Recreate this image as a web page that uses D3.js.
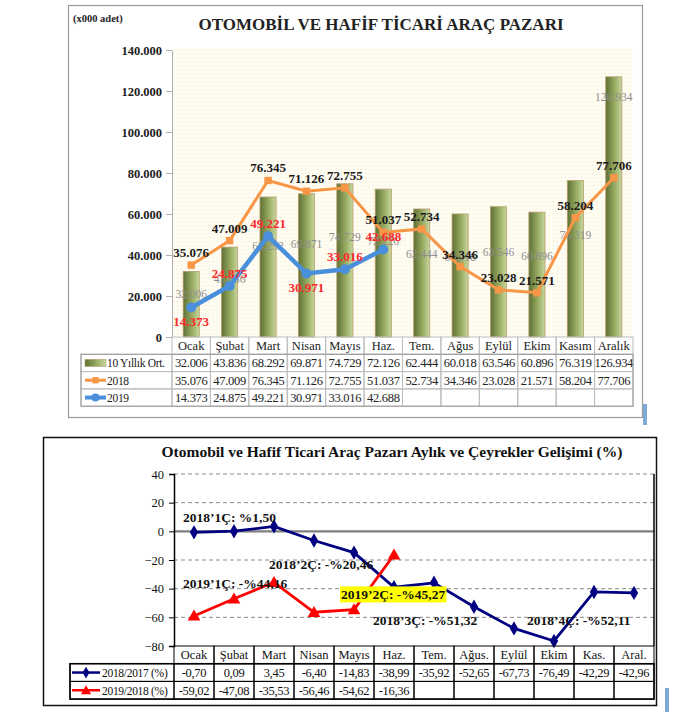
<!DOCTYPE html>
<html><head><meta charset="utf-8">
<script src="https://cdn.jsdelivr.net/npm/d3@7"></script>
<style>body{margin:0;background:#fff}svg{display:block}</style>
</head><body>
<svg id="c" width="673" height="716"></svg>
<script>
// ---------- DATA ----------
const months1 = ["Ocak","Şubat","Mart","Nisan","Mayıs","Haz.","Tem.","Ağus","Eylül","Ekim","Kasım","Aralık"];
const avg10  = [32006,43836,68292,69871,74729,72126,62444,60018,63546,60896,76319,126934];
const s2018  = [35076,47009,76345,71126,72755,51037,52734,34346,23028,21571,58204,77706];
const s2019  = [14373,24875,49221,30971,33016,42688];
const yTicks1 = [0,20000,40000,60000,80000,100000,120000,140000];
const seriesNames1 = ["10 Yıllık Ort.","2018","2019"];

const months2 = ["Ocak","Şubat","Mart","Nisan","Mayıs","Haz.","Tem.","Ağus.","Eylül","Ekim","Kas.","Aral."];
const g2018 = [-0.70,0.09,3.45,-6.40,-14.83,-38.99,-35.92,-52.65,-67.73,-76.49,-42.29,-42.96];
const g2019 = [-59.02,-47.08,-35.53,-56.46,-54.62,-16.36];
const yTicks2 = [40,20,0,-20,-40,-60,-80];
const seriesNames2 = ["2018/2017 (%)","2019/2018 (%)"];
const quarterNotes = [
  {t:"2018’1Ç: %1,50",  i:0, v:10},
  {t:"2018’2Ç: -%20,46",i:2.15, v:-23},
  {t:"2019’1Ç: -%44,16",i:0, v:-36.5},
  {t:"2019’2Ç: -%45,27",i:3.95, v:-44, hl:true},
  {t:"2018’3Ç: -%51,32",i:4.75, v:-62.5},
  {t:"2018’4Ç: -%52,11",i:8.6, v:-62.5}
];

// ---------- SETUP ----------
const loc = d3.formatLocale({decimal:",",thousands:".",grouping:[3],currency:["",""],minus:"-"});
const fmtK = loc.format(",d");
const fmtP = loc.format(".2f");
const SERIF = "Liberation Serif, DejaVu Serif, serif";
const svg = d3.select("#c");
const defs = svg.append("defs");

const grad = defs.append("linearGradient").attr("id","barG").attr("x1","0").attr("x2","1").attr("y1","0").attr("y2","0");
grad.append("stop").attr("offset","0%").attr("stop-color","#5f7034");
grad.append("stop").attr("offset","55%").attr("stop-color","#97ab62");
grad.append("stop").attr("offset","100%").attr("stop-color","#c9d79e");

const pat = defs.append("pattern").attr("id","dots").attr("width",4).attr("height",4).attr("patternUnits","userSpaceOnUse");
pat.append("rect").attr("width",4).attr("height",4).attr("fill","#fffcf2");
pat.append("rect").attr("x",1).attr("y",1).attr("width",1).attr("height",1).attr("fill","#f0e6cf");

// ================= TOP CHART =================
const T = {left:172,right:633,top:48,zero:337};
svg.append("rect").attr("x",68.5).attr("y",5.5).attr("width",574).attr("height",412)
  .attr("fill","#fff").attr("stroke","#9a9a9a").attr("stroke-width",1.2);
svg.append("rect").attr("x",643).attr("y",404).attr("width",4).attr("height",21).attr("fill","#7fa9d6");

svg.append("text").attr("x",73).attr("y",22).attr("font-family",SERIF).attr("font-weight","bold")
  .attr("font-size",10.5).attr("fill","#222").text("(x000 adet)");
svg.append("text").attr("x",381).attr("y",29.5).attr("text-anchor","middle").attr("font-family",SERIF)
  .attr("font-weight","bold").attr("font-size",17).attr("fill","#222").text("OTOMOBİL VE HAFİF TİCARİ ARAÇ PAZARI");

const x1 = d3.scaleBand().domain(months1).range([T.left,T.right]).padding(0);
const y1 = d3.scaleLinear().domain([0,140000]).range([T.zero,50]);
const bw1 = x1.bandwidth();
const cx1 = m => x1(m)+bw1/2;

svg.append("rect").attr("x",T.left+1).attr("y",T.top).attr("width",T.right-T.left-1).attr("height",T.zero-T.top).attr("fill","url(#dots)");

// y axis
const ax1 = svg.append("g").attr("transform",`translate(${T.left},0)`)
  .call(d3.axisLeft(y1).tickValues(yTicks1).tickFormat(d=>d===0?"0":fmtK(d)).tickSize(6).tickPadding(4));
ax1.attr("font-family",SERIF);
ax1.select(".domain").attr("stroke","#b0b0b0");
ax1.selectAll(".tick line").attr("stroke","#b0b0b0");
ax1.selectAll(".tick text").attr("font-family",SERIF).attr("font-weight","bold").attr("font-size",12.5).attr("fill","#222");

// bars
const barW = bw1*0.42;
svg.append("g").selectAll("rect").data(avg10).join("rect")
  .attr("x",(d,i)=>cx1(months1[i])-barW/2).attr("y",d=>y1(d)).attr("width",barW).attr("height",d=>y1(0)-y1(d))
  .attr("fill","url(#barG)").attr("stroke","#b59d6b").attr("stroke-width",0.8);

// gray labels of avg
svg.append("g").selectAll("text").data(avg10).join("text")
  .attr("x",(d,i)=>cx1(months1[i])).attr("y",d=>{const h=y1(0)-y1(d);return y1(d)+(h>200?20:0.35*h)+4;})
  .attr("text-anchor","middle").attr("font-family",SERIF).attr("font-size",11.5).attr("fill","#8e8e8e").text(d=>fmtK(d));

// lines
const line1 = d3.line().x((d,i)=>cx1(months1[i])).y(d=>y1(d));
svg.append("path").datum(s2018).attr("d",line1).attr("fill","none").attr("stroke","#f79646").attr("stroke-width",3);
svg.append("g").selectAll("path").data(s2018).join("path")
  .attr("transform",(d,i)=>`translate(${cx1(months1[i])},${y1(d)})`)
  .attr("d",d3.symbol(d3.symbolSquare,55)).attr("fill","#f79646");
svg.append("path").datum(s2019).attr("d",line1).attr("fill","none").attr("stroke","#4a8fdb").attr("stroke-width",4.5);
svg.append("g").selectAll("circle").data(s2019).join("circle")
  .attr("cx",(d,i)=>cx1(months1[i])).attr("cy",d=>y1(d)).attr("r",5).attr("fill","#4a8fdb");

// 2018 labels
svg.append("g").selectAll("text").data(s2018).join("text")
  .attr("x",(d,i)=>cx1(months1[i])).attr("y",d=>y1(d)-8)
  .attr("text-anchor","middle").attr("font-family",SERIF).attr("font-weight","bold").attr("font-size",13).attr("fill","#1a1a1a").text(d=>fmtK(d));
// 2019 labels
svg.append("g").selectAll("text").data(s2019).join("text")
  .attr("x",(d,i)=>cx1(months1[i])).attr("y",(d,i)=>{
      const prev=i>0?s2019[i-1]:Infinity, next=i<s2019.length-1?s2019[i+1]:Infinity;
      return (d<prev&&d<next)? y1(d)+18 : y1(d)-8;})
  .attr("text-anchor","middle").attr("font-family",SERIF).attr("font-weight","bold").attr("font-size",13).attr("fill","#ff2a2a").text(d=>fmtK(d));

// table top chart
const tb1 = {left:81, rh:17.3, top:T.zero};
const tg1 = svg.append("g").attr("font-family",SERIF).attr("font-size",12.5).attr("fill","#222");
const gridC = "#bdbdbd";
months1.forEach((m,i)=>{
  tg1.append("rect").attr("x",x1(m)).attr("y",tb1.top).attr("width",bw1).attr("height",tb1.rh).attr("fill","none").attr("stroke",gridC);
  tg1.append("text").attr("x",cx1(m)).attr("y",tb1.top+tb1.rh/2+4.5).attr("text-anchor","middle").text(m);
});
const rows1 = [avg10,s2018,s2019];
rows1.forEach((row,r)=>{
  const yy = tb1.top+tb1.rh*(r+1);
  tg1.append("rect").attr("x",tb1.left).attr("y",yy).attr("width",T.left-tb1.left).attr("height",tb1.rh).attr("fill","none").attr("stroke",gridC);
  months1.forEach((m,i)=>{
    tg1.append("rect").attr("x",x1(m)).attr("y",yy).attr("width",bw1).attr("height",tb1.rh).attr("fill","none").attr("stroke",gridC);
    if(row[i]!==undefined) tg1.append("text").attr("x",cx1(m)).attr("y",yy+tb1.rh/2+4.5).attr("text-anchor","middle")
      .attr("letter-spacing",-0.3).text(fmtK(row[i]));
  });
  const ly = yy+tb1.rh/2;
  if(r===0){
    tg1.append("rect").attr("x",85).attr("y",ly-3.5).attr("width",21).attr("height",7).attr("fill","url(#barG)").attr("stroke","#b59d6b").attr("stroke-width",0.6);
  } else {
    const col = r===1?"#f79646":"#4a8fdb";
    tg1.append("line").attr("x1",85).attr("x2",106).attr("y1",ly).attr("y2",ly).attr("stroke",col).attr("stroke-width",r===1?3:4);
    if(r===1) tg1.append("path").attr("transform",`translate(95.5,${ly})`).attr("d",d3.symbol(d3.symbolSquare,40)).attr("fill",col);
    else tg1.append("circle").attr("cx",95.5).attr("cy",ly).attr("r",4).attr("fill",col);
  }
  tg1.append("text").attr("x",107).attr("y",ly+4.5).attr("font-size",11.5).attr("letter-spacing",-0.3).text(seriesNames1[r]);
});
tg1.append("rect").attr("x",tb1.left).attr("y",tb1.top+tb1.rh).attr("width",T.right-tb1.left).attr("height",tb1.rh*3).attr("fill","none").attr("stroke","#999");

// ================= BOTTOM CHART =================
const B = {left:174,right:654,top:474,bottom:646};
svg.append("rect").attr("x",43.5).attr("y",437.5).attr("width",613).attr("height",268).attr("fill","#fff").attr("stroke","#111").attr("stroke-width",1.5);
svg.append("rect").attr("x",665).attr("y",688).attr("width",4).attr("height",24).attr("fill","#7fa9d6");

svg.append("text").attr("x",392).attr("y",457).attr("text-anchor","middle").attr("font-family",SERIF).attr("font-weight","bold")
  .attr("font-size",15.5).attr("fill","#111").text("Otomobil ve Hafif Ticari Araç Pazarı Aylık ve Çeyrekler Gelişimi (%)");

const x2 = d3.scaleBand().domain(months2).range([B.left,B.right]).padding(0);
const y2 = d3.scaleLinear().domain([-80,40]).range([B.bottom,B.top]);
const bw2 = x2.bandwidth();
const cx2 = m => x2(m)+bw2/2;

yTicks2.forEach(t=>{
  if(t===-80) return;
  svg.append("line").attr("x1",B.left).attr("x2",B.right).attr("y1",y2(t)).attr("y2",y2(t))
    .attr("stroke",t===0?"#7f7f7f":"#8a8a8a").attr("stroke-width",t===0?2.2:1).attr("stroke-dasharray",t===0?null:"4,3");
});
const ax2 = svg.append("g").attr("transform",`translate(${B.left},0)`)
  .call(d3.axisLeft(y2).tickValues(yTicks2).tickSize(5).tickPadding(5));
ax2.attr("font-family",SERIF);
ax2.select(".domain").attr("stroke","#000").attr("stroke-width",1.5);
ax2.selectAll(".tick line").attr("stroke","#000");
ax2.selectAll(".tick text").attr("font-family",SERIF).attr("font-size",12.5).attr("fill","#111");
svg.append("line").attr("x1",B.right).attr("x2",B.right).attr("y1",B.top).attr("y2",B.bottom).attr("stroke","#000").attr("stroke-width",1.5);

const line2 = d3.line().x((d,i)=>cx2(months2[i])).y(d=>y2(d));
svg.append("path").datum(g2018).attr("d",line2).attr("fill","none").attr("stroke","#000080").attr("stroke-width",2.8);
svg.append("g").selectAll("path").data(g2018).join("path")
  .attr("transform",(d,i)=>`translate(${cx2(months2[i])},${y2(d)})`)
  .attr("d",d3.symbol(d3.symbolDiamond,60)).attr("fill","#000080");
svg.append("path").datum(g2019).attr("d",line2).attr("fill","none").attr("stroke","#ff0000").attr("stroke-width",2.8);
svg.append("g").selectAll("path").data(g2019).join("path")
  .attr("transform",(d,i)=>`translate(${cx2(months2[i])},${y2(d)+1})`)
  .attr("d",d3.symbol(d3.symbolTriangle,70)).attr("fill","#ff0000");

const ng = svg.append("g").attr("font-family",SERIF).attr("font-weight","bold").attr("font-size",13.5).attr("fill","#111");
quarterNotes.forEach(n=>{
  const xx = B.left + bw2*n.i + 9, yy = y2(n.v);
  const t = ng.append("text").attr("x",xx).attr("y",yy+4.5).text(n.t);
  if(n.hl){
    const bb = t.node().getBBox();
    ng.insert("rect","text").attr("x",bb.x-1).attr("y",yy-8).attr("width",bb.width+2).attr("height",16).attr("fill","#ffff00");
  }
});

const tb2 = {left:70, rh:17.7, top:B.bottom};
const tg2 = svg.append("g").attr("font-family",SERIF).attr("font-size",12.5).attr("fill","#111");
months2.forEach((m,i)=>{
  tg2.append("rect").attr("x",x2(m)).attr("y",tb2.top).attr("width",bw2).attr("height",tb2.rh).attr("fill","none").attr("stroke","#000");
  tg2.append("text").attr("x",cx2(m)).attr("y",tb2.top+tb2.rh/2+4.5).attr("text-anchor","middle").text(m);
});
[g2018,g2019].forEach((row,r)=>{
  const yy = tb2.top+tb2.rh*(r+1);
  tg2.append("rect").attr("x",tb2.left).attr("y",yy).attr("width",B.left-tb2.left).attr("height",tb2.rh).attr("fill","none").attr("stroke","#000");
  months2.forEach((m,i)=>{
    tg2.append("rect").attr("x",x2(m)).attr("y",yy).attr("width",bw2).attr("height",tb2.rh).attr("fill","none").attr("stroke","#000");
    if(row[i]!==undefined) tg2.append("text").attr("x",cx2(m)).attr("y",yy+tb2.rh/2+4.5).attr("text-anchor","middle").attr("letter-spacing",-0.3).text(fmtP(row[i]));
  });
  const ly = yy+tb2.rh/2, col = r===0?"#000080":"#ff0000";
  tg2.append("line").attr("x1",72).attr("x2",100).attr("y1",ly).attr("y2",ly).attr("stroke",col).attr("stroke-width",2.5);
  tg2.append("path").attr("transform",`translate(86,${ly+(r?1:0)})`).attr("d",d3.symbol(r===0?d3.symbolDiamond:d3.symbolTriangle,r===0?40:45)).attr("fill",col);
  tg2.append("text").attr("x",102).attr("y",ly+4.5).attr("font-size",11.5).attr("letter-spacing",-0.3).text(seriesNames2[r]);
});
tg2.append("rect").attr("x",tb2.left).attr("y",tb2.top+tb2.rh).attr("width",B.right-tb2.left).attr("height",tb2.rh*2).attr("fill","none").attr("stroke","#000").attr("stroke-width",1.5);
</script>
</body></html>
